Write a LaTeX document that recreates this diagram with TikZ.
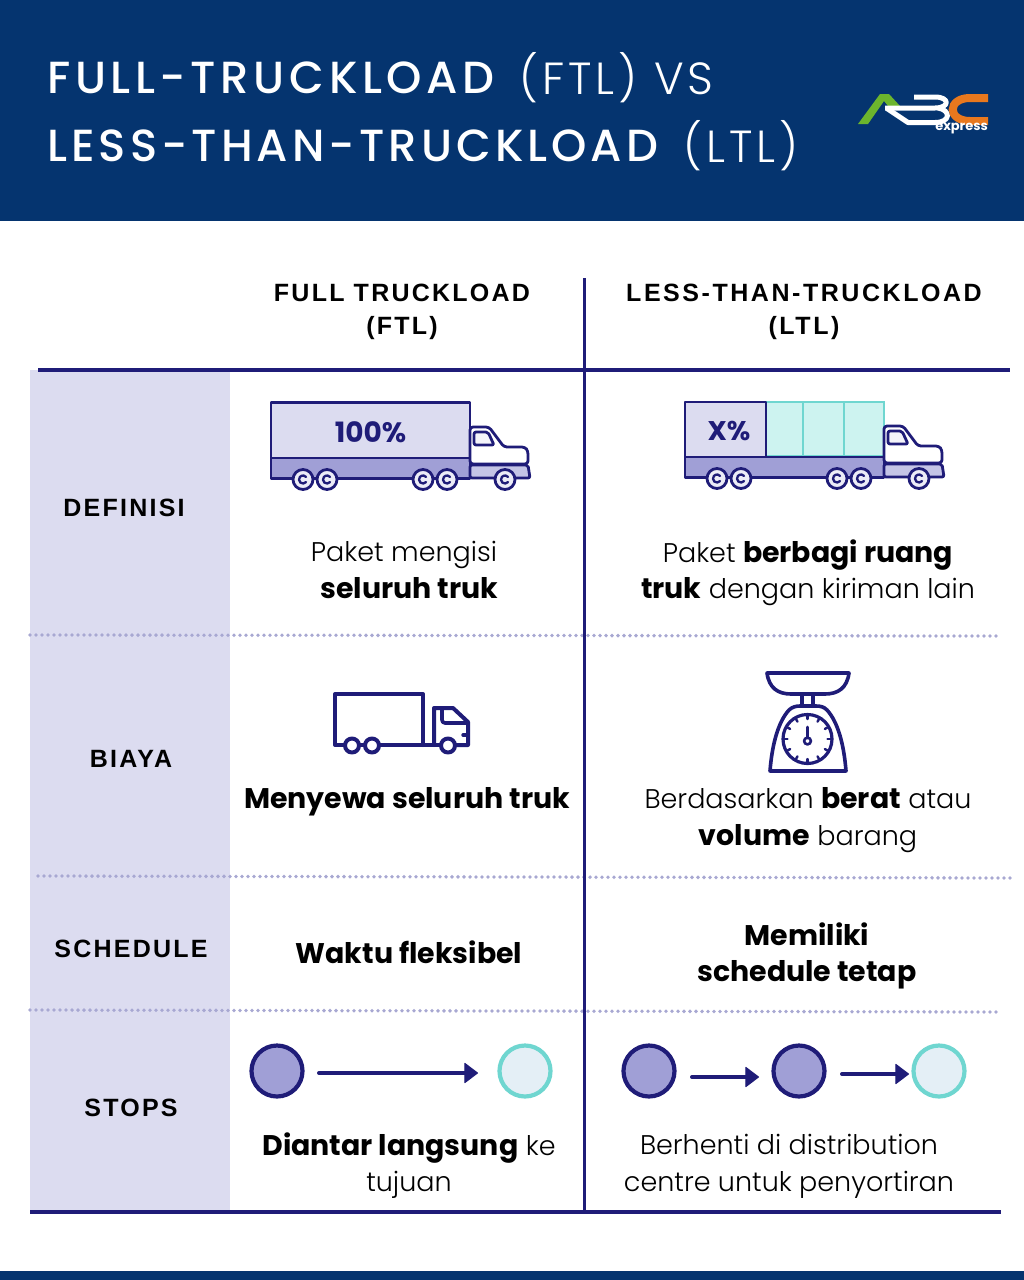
\documentclass[tikz,border=0pt]{standalone}
\usepackage{fontspec}
\usetikzlibrary{arrows.meta,calc}
\setmainfont{Poppins}
\newfontfamily\lightf{Poppins Light}
\newfontfamily\headf[LetterSpace=10.3]{Poppins Medium}
\newfontfamily\headg[LetterSpace=9]{Poppins Medium}
\newfontfamily\headl[LetterSpace=9]{Poppins Light}
\newfontfamily\capsf[LetterSpace=9,BoldFont={Liberation Sans Bold}]{Liberation Sans}
\newfontfamily\capsg[LetterSpace=10.2,BoldFont={Liberation Sans Bold}]{Liberation Sans}
\newfontfamily\boldf{Poppins}
\newcommand{\bo}[1]{{\boldf\bfseries\fontsize{28.4}{36.5}\selectfont #1}}
\definecolor{navy}{HTML}{05346F}
\definecolor{ink}{HTML}{1F1C78}
\definecolor{panel}{HTML}{DCDCF0}
\definecolor{mid}{HTML}{A09FD6}
\definecolor{dotc}{HTML}{A8A8D2}
\definecolor{teal}{HTML}{6FD6D0}
\definecolor{tealf}{HTML}{CDF3F0}
\definecolor{pale}{HTML}{E4EFF6}
\definecolor{lgreen}{HTML}{6CB52D}
\definecolor{lorange}{HTML}{E8781E}
\tikzset{
 x=1pt,y=-1pt,
 rule/.style={draw=ink,line width=3.8pt},
 dotrule/.style={draw=dotc,line width=3.8pt,line cap=round,dash pattern=on 0pt off 6pt},
 icon/.style={draw=ink,line width=2.8pt,line join=round,line cap=round},
 title/.style={anchor=west,text=white,inner sep=0pt},
 colhead/.style={align=center,inner sep=0pt,text=black},
 rowhead/.style={inner sep=0pt,font=\capsf\bfseries\fontsize{25}{30}\selectfont,text=black},
 body/.style={align=center,inner sep=0pt,text=black,font=\lightf\fontsize{27}{36.5}\selectfont},
 stopa/.style={circle,draw=ink,fill=mid,line width=4.2pt,minimum size=51pt,inner sep=0pt},
 stopb/.style={circle,draw=teal,fill=pale,line width=4.2pt,minimum size=51pt,inner sep=0pt},
 go/.style={draw=ink,line width=4pt,line cap=round,-{Triangle[round,length=14pt,width=21pt,line width=1pt]}},
}
\newcommand{\wheel}[2]{%
 \draw[icon,fill=panel!55] (#1,#2) circle (10);
 \draw[draw=ink,line width=2.3pt,line cap=round] ($(#1,#2)+(40:4)$) arc (40:320:4);
}
\newcommand{\chassiscab}{%
 \draw[icon,fill=mid] (271,458) -- (470,458) -- (470,478.5) -- (271,478.5) -- cycle;
 \draw[icon,fill=white,rounded corners=3pt] (470,427) -- (489,427) -- (504,447) -- (525,447) -- (528,451) -- (528,464) -- (470,464) -- cycle;
 \draw[icon,fill=panel!60!mid,rounded corners=2pt] (470,465) -- (528,465) -- (530,478) -- (470,478) -- cycle;
 \draw[icon,rounded corners=2pt,fill=panel!30] (474,432) -- (488,432) -- (494,445) -- (474,445) -- cycle;
 \foreach \wx in {303,327,423,447,505} {\wheel{\wx}{479.5}}
}
\begin{document}
\begin{tikzpicture}
\useasboundingbox (0,0) rectangle (1024,1280);
\fill[white] (0,0) rectangle (1024,1280);
\fill[navy] (0,0) rectangle (1024,221);
\fill[navy] (0,1271) rectangle (1024,1280);
\fill[panel] (30,370) rectangle (230,1212);

% title
\node[title] (t1) at (47,78) {\fontsize{45}{50}\selectfont\headf FULL-TRUCKLOAD};
\node[title] (t1b) at (519,78) {\fontsize{45}{50}\selectfont\headl (FTL) VS};
\node[title] (t2) at (47,146) {\fontsize{45}{50}\selectfont\headg LESS-THAN-TRUCKLOAD};
\node[title] (t2b) at (683,146) {\fontsize{45}{50}\selectfont\headl (LTL)};

% logo
\fill[lgreen] (858,124) -- (880,94) -- (889,94) -- (900,106) -- (888,106) -- (884,101) -- (868,124) -- cycle;
\draw[white,line width=5pt,line join=round] (885,108) -- (935,108) .. controls (950,108) and (950,97) .. (935,97) -- (914,97);
\draw[white,line width=5pt,line join=round] (887,108.5) -- (908,122.5) -- (935,122.5) .. controls (951,122.5) and (951,110) .. (938,108);
\draw[lorange,line width=8pt] (988,98) -- (970,98) .. controls (947,98) and (947,121) .. (970,121) -- (988,121);
\node[inner sep=0pt,anchor=east,text=white] (logotext) at (988,129) {\fontsize{13}{13}\selectfont\bfseries express};

% column heads
\node[colhead,font=\capsf\bfseries\fontsize{25}{33.5}\selectfont] (h1) at (402,312) {FULL TRUCKLOAD\\(FTL)};
\node[colhead,font=\capsg\bfseries\fontsize{25}{33.5}\selectfont] (h2) at (804,312) {LESS-THAN-TRUCKLOAD\\(LTL)};

% rules
\draw[dotrule] (30,635) -- (1000,636);
\draw[dotrule] (38,876) -- (1010,878);
\draw[dotrule] (30,1010) -- (1000,1012);
\draw[rule] (38,370) -- (1010,370);
\draw[rule] (30,1212) -- (1001,1212);
\draw[rule] (584.5,278) -- (584.5,1212);

% row heads
\node[rowhead] (r1) at (124,508) {DEFINISI};
\node[rowhead] (r2) at (131,759) {BIAYA};
\node[rowhead] (r3) at (131,949) {SCHEDULE};
\node[rowhead] (r4) at (131,1108) {STOPS};

% truck 1
\draw[icon,fill=panel] (271,402.5) rectangle (470,458);
\chassiscab
\node[inner sep=0pt,text=ink] (p100) at (370.5,432) {\fontsize{28}{30}\selectfont\bfseries 100\%};

% truck 2
\begin{scope}[shift={(414,-1)}]
\draw[draw=teal,line width=2.6pt,fill=tealf] (352,403) rectangle (470,457);
\draw[draw=teal,line width=2.6pt] (389,403) -- (389,457) (430,403) -- (430,457);
\draw[icon,fill=panel] (271,403) rectangle (352,458);
\chassiscab
\node[inner sep=0pt,text=ink] (px) at (315,432) {\fontsize{27}{29}\selectfont\bfseries X\%};
\end{scope}

% small truck
\draw[icon,line width=4pt] (423,745) -- (423,694) -- (335,694) -- (335,745) -- (345,745);
\draw[icon,line width=4pt] (359,745) -- (365,745) (379,745) -- (441,745);
\draw[icon,line width=4pt] (434,745) -- (434,708) -- (453,708) -- (468,722) -- (468,745) -- (455,745);
\draw[icon,line width=3.6pt,rounded corners=3pt] (442,709) -- (442,723) -- (468,723);
\draw[icon,line width=4pt] (352,745.5) circle (7) (372,745.5) circle (7) (448,745.5) circle (7);
\draw[icon,line width=3.4pt] (463,735) -- (468,735);

% scale
\draw[icon,line width=3.6pt,fill=white] (767,673) -- (849,673) .. controls (847,688) and (838,694) .. (825,694) -- (791,694) .. controls (778,694) and (769,688) .. (767,673) -- cycle;
\draw[icon,line width=3.6pt] (802,694) -- (802,706) (813,694) -- (813,706);
\draw[icon,line width=3.6pt] (770,771) .. controls (772,745) and (778,722) .. (789,710) .. controls (792,707) and (796,706) .. (800,706) -- (816,706) .. controls (821,706) and (824,707) .. (827,710) .. controls (838,722) and (844,745) .. (846,771) -- cycle;
\draw[icon,line width=3.2pt] (807.5,739) circle (24.5);
\foreach \a in {0,30,...,330} {\draw[icon,line width=2.4pt] ($(807.5,739)+(\a:20)$) -- ($(807.5,739)+(\a:24)$);}
\draw[icon,line width=2.6pt] (807.5,741) circle (3.4);
\draw[icon,line width=2.6pt] (807.5,738) -- (807.5,727);

% text
\node[body] (a1) at (404,570) {Paket mengisi\\\hspace*{11pt}\bo{seluruh truk}};
\node[body] (a2) at (808,572.5) {Paket \bo{berbagi ruang}\\\bo{truk} dengan kiriman lain};
\node[body,font=\boldf\bfseries\fontsize{28.4}{36.5}\selectfont] (b1) at (407,802) {Menyewa seluruh truk};
\node[body] (b2) at (808,820) {Berdasarkan \bo{berat} atau\\\bo{volume} barang};
\node[body,font=\boldf\bfseries\fontsize{28.4}{36.5}\selectfont] (c1) at (409,952) {Waktu fleksibel};
\node[body,font=\boldf\bfseries\fontsize{28.4}{36.5}\selectfont] (c2) at (807,956) {Memiliki\\schedule tetap};
\node[body] (d1) at (409,1165.5) {\bo{Diantar langsung} ke\\tujuan};
\node[body] (d2) at (789,1166.5) {Berhenti di distribution\\centre untuk penyortiran};

% stops
\node[stopa] (s1) at (277,1071) {};
\node[stopb] (s2) at (525,1071) {};
\node[stopa] (s3) at (649,1071) {};
\node[stopa] (s4) at (799,1071) {};
\node[stopb] (s5) at (939,1071) {};
\coordinate (g1a) at (319,1073); \coordinate (g1b) at (478,1073);
\coordinate (g2a) at (692,1077); \coordinate (g2b) at (759,1077);
\coordinate (g3a) at (842,1074); \coordinate (g3b) at (909,1074);
\draw[go] (g1a) -- (g1b);
\draw[go] (g2a) -- (g2b);
\draw[go] (g3a) -- (g3b);
\end{tikzpicture}
\end{document}
